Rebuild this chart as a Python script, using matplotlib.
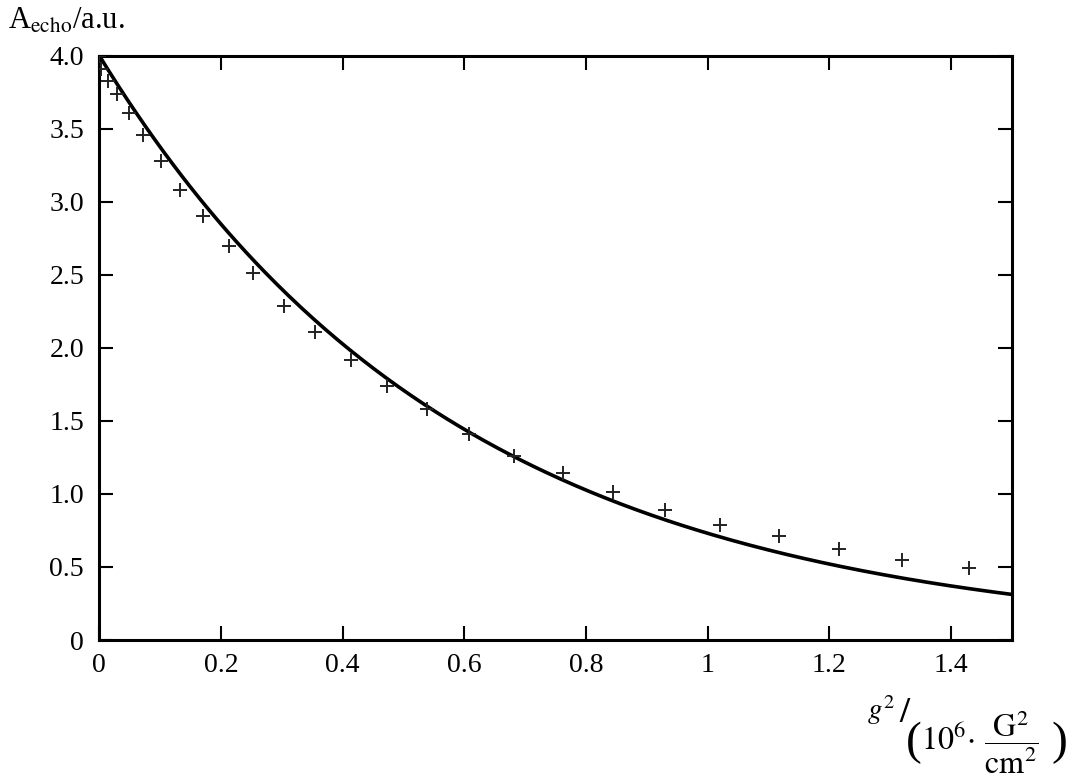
import numpy as np
import matplotlib.pyplot as plt

plt.rcParams['font.family'] = ['Liberation Serif', 'DejaVu Serif']
plt.rcParams['mathtext.fontset'] = 'stix'

# measured echo amplitudes vs g^2 (10^6 G^2/cm^2)
g2 = [0.0, 0.003, 0.015, 0.029, 0.049, 0.071, 0.101, 0.132, 0.171, 0.213,
      0.252, 0.303, 0.355, 0.413, 0.473, 0.539, 0.607, 0.681, 0.763, 0.844,
      0.930, 1.020, 1.118, 1.216, 1.319, 1.430]
a_echo = [4.00, 3.91, 3.83, 3.74, 3.61, 3.46, 3.28, 3.08, 2.90, 2.70,
          2.51, 2.29, 2.11, 1.92, 1.74, 1.58, 1.41, 1.26, 1.14, 1.01,
          0.89, 0.79, 0.71, 0.62, 0.55, 0.49]

# fitted mono-exponential decay
fit_a0 = 4.0
fit_k = 1.70

xticks = [0, 0.2, 0.4, 0.6, 0.8, 1.0, 1.2, 1.4]
xticklabels = ["0", "0.2", "0.4", "0.6", "0.8", "1", "1.2", "1.4"]
yticks = [0, 0.5, 1.0, 1.5, 2.0, 2.5, 3.0, 3.5, 4.0]
yticklabels = ["0", "0.5", "1.0", "1.5", "2.0", "2.5", "3.0", "3.5", "4.0"]

W, H = 1066, 774
fig = plt.figure(figsize=(W / 100, H / 100), dpi=100)
ax = fig.add_axes([0.0932, 0.1731, 0.8559, 0.7549])

xs = np.linspace(0, 1.5, 300)
ax.plot(xs, fit_a0 * np.exp(-fit_k * xs), color='black', linewidth=2.6, zorder=3)
ax.plot(g2, a_echo, linestyle='none', marker='+', markersize=10,
        markeredgewidth=1.4, color='#222222', zorder=4)

ax.set_xlim(0, 1.5)
ax.set_ylim(0, 4.0)
ax.set_xticks(xticks)
ax.set_xticklabels(xticklabels)
ax.set_yticks(yticks)
ax.set_yticklabels(yticklabels)
ax.tick_params(direction='in', top=True, right=True, length=10, width=1.5,
               labelsize=20)
ax.tick_params(axis='y', pad=11)
ax.tick_params(axis='x', pad=9)
for s in ax.spines.values():
    s.set_linewidth(2.2)


def px(x, y):
    return x / W, 1 - y / H


# y label, top left
fig.text(*px(8, 29), r"A$_{\mathrm{echo}}$/a.u.", fontsize=22,
         ha='left', va='baseline')

# x label, lower right, built from pieces
fig.text(*px(881, 710), r"$g^2$", fontsize=21, ha='center', va='center')
fig.text(*px(904, 713), "/", fontsize=26, fontweight='bold',
         ha='center', va='center')
fig.text(*px(914, 743), "(", fontsize=34, ha='center', va='center')
fig.text(*px(921, 742),
         r"$10^6\!\cdot\,\dfrac{\mathrm{G}^2}{\mathrm{cm}^2}$",
         fontsize=23, ha='left', va='center')
fig.text(*px(1059, 743), ")", fontsize=34, ha='center', va='center')

fig.savefig("out.png", dpi=100)
